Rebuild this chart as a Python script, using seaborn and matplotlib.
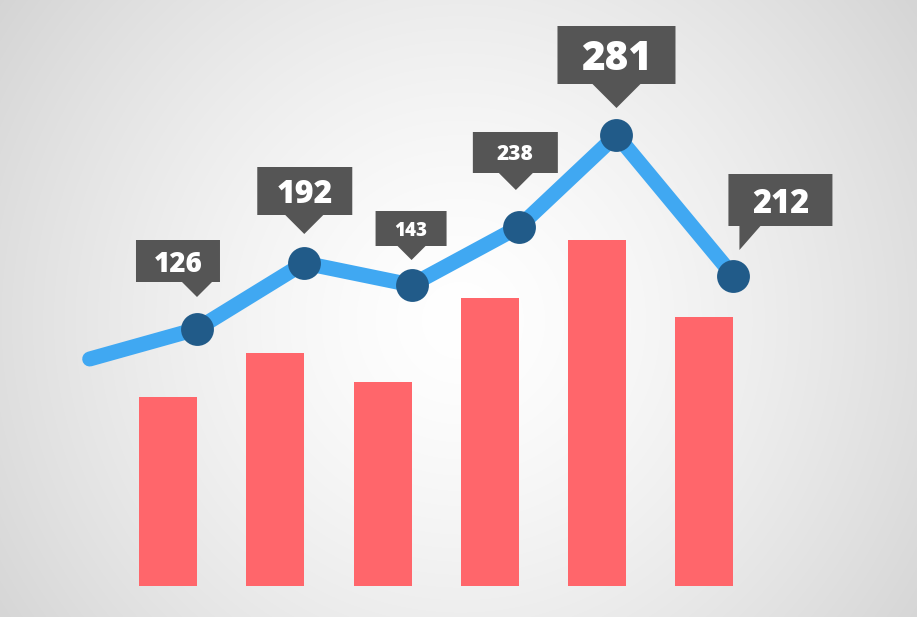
import matplotlib
matplotlib.use("Agg")
import matplotlib.pyplot as plt
import matplotlib.transforms as mtransforms
from matplotlib.patches import Polygon
import numpy as np
import pandas as pd
import seaborn as sns


# ==============================
# DATA (arbitrary height units)
# ==============================
bar_pos = [0, 1, 2, 3, 4, 5]
bar_values = [189, 233, 204, 288, 346, 269]

line_x = [-0.73, 0.27, 1.27, 2.27, 3.27, 4.18, 5.27]
line_values = [227, 257, 323, 301, 359, 451, 310]

point_labels = ["126", "192", "143", "238", "281", "212"]

# ==============================
# CALLOUT SHAPES (pixel offsets from the marker centre, y up)
# box: left, right, bottom, top ; tip: x, y ; font size
# ==============================
callout_box = [
    (-61, 23, 47, 89),
    (-47, 48, 48, 96),
    (-36, 35, 39, 74),
    (-46, 39, 54, 95),
    (-59, 59, 51, 109),
    (-5, 99, 50, 102),
]
callout_tip = [(0, 32), (0, 29), (0, 25), (-3, 37), (0, 27), (6, 26)]
callout_font = [20, 23, 13.5, 15, 29, 23.5]
callout_corner = [False, False, False, False, False, True]

BAR_COLOR = "#FF666B"
LINE_COLOR = "#40A8F2"
DOT_COLOR = "#215B89"
BOX_COLOR = "#555555"

W, H, DPI = 917, 617, 100

sns.set_theme(style="white")
plt.rcParams["font.family"] = ["Open Sans", "DejaVu Sans"]

fig = plt.figure(figsize=(W / DPI, H / DPI), dpi=DPI)
ax = fig.add_axes([0, 0, 1, 1])

# radial grey background
yy, xx = np.mgrid[0:H, 0:W]
r = np.hypot(xx - 460, yy - 320) / 570.0
shade = 1.0 - 0.17 * np.clip(r, 0, 1.2) ** 1.4
bg = np.dstack([shade, shade, shade])
ax.imshow(bg, extent=[0, 1, 0, 1], transform=ax.transAxes,
          aspect="auto", zorder=0, interpolation="bilinear")

# bars
bars_df = pd.DataFrame({"pos": bar_pos, "value": bar_values})
sns.barplot(data=bars_df, x="pos", y="value", color=BAR_COLOR,
            width=0.54, saturation=1, ax=ax, zorder=2, linewidth=0)

# line + dots
line_df = pd.DataFrame({"x": line_x, "y": line_values})
sns.lineplot(data=line_df, x="x", y="y", color=LINE_COLOR, lw=10.8,
             solid_capstyle="round", sort=False, ax=ax, zorder=3)
sns.scatterplot(data=line_df.iloc[1:], x="x", y="y", color=DOT_COLOR,
                s=560, linewidth=0, ax=ax, zorder=4)

ax.set_xlim(-1.566, 6.981)
ax.set_ylim(-31, 586)
ax.set_axis_off()

# callouts
for i, label in enumerate(point_labels):
    mx, my = line_x[i + 1], line_values[i + 1]
    trans = fig.dpi_scale_trans + mtransforms.ScaledTranslation(mx, my, ax.transData)
    left, right, bottom, top = callout_box[i]
    tx, ty = callout_tip[i]
    half = bottom - ty
    if callout_corner[i]:
        verts = [(left, top), (right, top), (right, bottom), (tx + 21, bottom),
                 (tx, ty), (tx, bottom), (left, bottom)]
    else:
        verts = [(left, top), (right, top), (right, bottom), (tx + half, bottom),
                 (tx, ty), (tx - half, bottom), (left, bottom)]
    verts = [(vx / DPI, vy / DPI) for vx, vy in verts]
    ax.add_patch(Polygon(verts, closed=True, facecolor=BOX_COLOR,
                         edgecolor="none", transform=trans, zorder=5))
    ax.text((left + right) / 2 / DPI, (bottom + top) / 2 / DPI, label,
            transform=trans, ha="center", va="center_baseline",
            color="white", fontsize=callout_font[i], fontweight="heavy", zorder=6)

fig.savefig("out.png", dpi=DPI)
plt.close(fig)
